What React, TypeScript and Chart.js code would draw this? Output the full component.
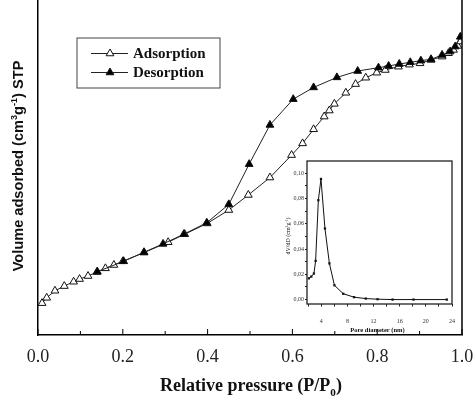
import React, { useEffect, useRef } from 'react';
import { Chart, registerables } from 'chart.js';
Chart.register(...registerables);

// Isotherm data (relative pressure P/P0, volume adsorbed, arbitrary units)
const ADS_P = [0.0095, 0.0205, 0.040, 0.062, 0.084, 0.098, 0.118, 0.139, 0.159, 0.179, 0.200, 0.250, 0.307, 0.346, 0.399, 0.450, 0.496, 0.547, 0.598, 0.624, 0.650, 0.675, 0.687, 0.699, 0.726, 0.749, 0.773, 0.799, 0.819, 0.850, 0.876, 0.901, 0.927, 0.953, 0.968, 0.980, 0.990, 0.996];
const ADS_V = [9.5, 11.1, 13.2, 14.6, 15.9, 16.7, 17.6, 18.8, 19.9, 20.9, 22.0, 24.6, 27.7, 30.1, 33.3, 37.3, 41.8, 47.0, 53.7, 57.2, 61.4, 65.2, 67.0, 69.0, 72.3, 74.9, 76.8, 78.3, 79.1, 80.1, 80.7, 81.1, 82.1, 83.1, 84.1, 85.1, 86.3, 87.6];
const DES_P = [0.996, 0.984, 0.972, 0.953, 0.927, 0.903, 0.878, 0.852, 0.827, 0.803, 0.754, 0.705, 0.650, 0.602, 0.547, 0.498, 0.450, 0.398, 0.344, 0.295, 0.250, 0.202, 0.140];
const DES_V = [89.0, 86.1, 84.6, 83.6, 82.3, 81.9, 81.4, 80.9, 80.3, 79.8, 78.8, 76.9, 73.9, 70.4, 62.7, 51.0, 39.0, 33.5, 30.1, 27.2, 24.7, 22.0, 18.9];

// Inset: pore size distribution
const PORE_D = [2.09, 2.46, 2.86, 3.12, 3.54, 3.94, 4.55, 5.23, 6.0, 7.35, 9.0, 10.8, 12.6, 14.9, 18.1, 23.2];
const PORE_DVDD = [0.0168, 0.0182, 0.0206, 0.0306, 0.0786, 0.0954, 0.0562, 0.0286, 0.0113, 0.0046, 0.0019, 0.0008, 0.0003, 0.0, 0.0, 0.0];

const MAIN_X_LABELS = ['0.0', '0.2', '0.4', '0.6', '0.8', '1.0'];
const INSET_X_LABELS = ['4', '8', '12', '16', '20', '24'];
const INSET_Y_LABELS = ['0,00', '0,02', '0,04', '0,06', '0,08', '0,10'];

const SERIF = '"Liberation Serif", "Times New Roman", serif';
const SANS = '"Liberation Sans", Arial, sans-serif';

type Part = { t: string; sup?: boolean; sub?: boolean };

function drawRich(ctx: CanvasRenderingContext2D, parts: Part[], x: number, y: number, size: number, family: string, weight: string, rotate: boolean) {
  ctx.save();
  ctx.translate(x, y);
  if (rotate) ctx.rotate(-Math.PI / 2);
  const big = `${weight} ${size}px ${family}`;
  const small = `${weight} ${Math.round(size * 0.62 * 10) / 10}px ${family}`;
  let total = 0;
  const widths = parts.map((p) => {
    ctx.font = p.sup || p.sub ? small : big;
    const w = ctx.measureText(p.t).width;
    total += w;
    return w;
  });
  let cx = -total / 2;
  ctx.textBaseline = 'alphabetic';
  ctx.textAlign = 'left';
  ctx.fillStyle = '#111';
  parts.forEach((p, i) => {
    ctx.font = p.sup || p.sub ? small : big;
    let dy = 0;
    if (p.sup) dy = -size * 0.42;
    if (p.sub) dy = size * 0.25;
    ctx.fillText(p.t, cx, size * 0.35 + dy);
    cx += widths[i];
  });
  ctx.restore();
}

function drawTriangle(ctx: CanvasRenderingContext2D, x: number, y: number, r: number, filled: boolean) {
  ctx.beginPath();
  let rad = 0;
  ctx.moveTo(x + Math.sin(rad) * r, y - Math.cos(rad) * r);
  rad += (2 * Math.PI) / 3;
  ctx.lineTo(x + Math.sin(rad) * r, y - Math.cos(rad) * r);
  rad += (2 * Math.PI) / 3;
  ctx.lineTo(x + Math.sin(rad) * r, y - Math.cos(rad) * r);
  ctx.closePath();
  ctx.fillStyle = filled ? '#000' : '#fff';
  ctx.fill();
  ctx.strokeStyle = '#111';
  ctx.lineWidth = 1;
  ctx.stroke();
}

const zeroPad = (s: any) => {
  s.paddingLeft = 0;
  s.paddingRight = 0;
  s.paddingTop = 0;
  s.paddingBottom = 0;
};

const mainPlugin = {
  id: 'mainDecor',
  afterDraw(chart: any) {
    const ctx: CanvasRenderingContext2D = chart.ctx;
    const { right, top, bottom } = chart.chartArea;
    const xs = chart.scales.x;
    ctx.save();
    ctx.strokeStyle = '#000';
    ctx.lineWidth = 1.5;
    ctx.beginPath();
    ctx.moveTo(right, top);
    ctx.lineTo(right, bottom);
    ctx.stroke();
    ctx.lineWidth = 1;
    for (let i = 0; i <= 10; i++) {
      const px = xs.getPixelForValue(i / 10);
      const len = i % 2 === 0 ? 6 : 4;
      ctx.beginPath();
      ctx.moveTo(px, bottom);
      ctx.lineTo(px, bottom - len);
      ctx.stroke();
    }
    // legend
    ctx.strokeStyle = '#444';
    ctx.lineWidth = 1;
    ctx.strokeRect(77, 38, 143, 50);
    const items = [
      { label: 'Adsorption', filled: false, y: 53.5 },
      { label: 'Desorption', filled: true, y: 72.5 },
    ];
    items.forEach((it) => {
      ctx.strokeStyle = '#222';
      ctx.lineWidth = 1;
      ctx.beginPath();
      ctx.moveTo(91, it.y);
      ctx.lineTo(128, it.y);
      ctx.stroke();
      drawTriangle(ctx, 110, it.y, 4.5, it.filled);
      ctx.fillStyle = '#111';
      ctx.font = `bold 15px ${SERIF}`;
      ctx.textBaseline = 'middle';
      ctx.textAlign = 'left';
      ctx.fillText(it.label, 133, it.y + 1);
    });
    ctx.restore();
    drawRich(ctx, [{ t: 'Volume adsorbed (cm' }, { t: '3', sup: true }, { t: 'g' }, { t: '-1', sup: true }, { t: ') STP' }], 18, 166, 14.6, SANS, 'bold', true);
    drawRich(ctx, [{ t: 'Relative pressure (P/P' }, { t: '0', sub: true }, { t: ')' }], 251, 385, 18, SERIF, 'bold', false);
  },
};

const insetPlugin = {
  id: 'insetDecor',
  beforeDraw(chart: any) {
    const ctx: CanvasRenderingContext2D = chart.ctx;
    const { left, right, top, bottom } = chart.chartArea;
    ctx.save();
    ctx.fillStyle = '#fff';
    ctx.fillRect(left, top, right - left, bottom - top);
    ctx.restore();
  },
  afterDraw(chart: any) {
    const ctx: CanvasRenderingContext2D = chart.ctx;
    const { left, right, top, bottom } = chart.chartArea;
    ctx.save();
    ctx.strokeStyle = '#222';
    ctx.lineWidth = 1.3;
    ctx.strokeRect(left, top, right - left, bottom - top);
    ctx.restore();
    drawRich(ctx, [{ t: 'dV/dD (cm' }, { t: '3', sup: true }, { t: 'g' }, { t: '-1', sup: true }, { t: ')' }], 8, 81, 6, SERIF, 'normal', true);
    drawRich(ctx, [{ t: 'Pore diameter (nm)' }], (left + right) / 2 - 2, 175, 6.5, SERIF, 'bold', false);
  },
};

export default function App() {
  const mainRef = useRef<HTMLCanvasElement>(null);
  const insetRef = useRef<HTMLCanvasElement>(null);

  useEffect(() => {
    const main = new Chart(mainRef.current as HTMLCanvasElement, {
      type: 'scatter',
      data: {
        datasets: [
          {
            label: 'Desorption',
            data: DES_P.map((p, i) => ({ x: p, y: DES_V[i] })),
            showLine: true,
            borderColor: '#222',
            borderWidth: 1,
            pointStyle: 'triangle',
            pointRadius: 4.5,
            pointBackgroundColor: '#000',
            pointBorderColor: '#111',
            pointBorderWidth: 1,
            order: 0,
          },
          {
            label: 'Adsorption',
            data: ADS_P.map((p, i) => ({ x: p, y: ADS_V[i] })),
            showLine: true,
            borderColor: '#222',
            borderWidth: 1,
            pointStyle: 'triangle',
            pointRadius: 4.5,
            pointBackgroundColor: '#fff',
            pointBorderColor: '#111',
            pointBorderWidth: 1,
            order: 1,
          },
        ],
      },
      options: {
        animation: false,
        responsive: false,
        events: [],
        layout: { autoPadding: false, padding: { top: 0, right: 12, left: 0, bottom: 0 } },
        plugins: { legend: { display: false }, tooltip: { enabled: false } },
        scales: {
          x: {
            type: 'linear',
            min: 0,
            max: 1,
            afterFit: (s: any) => { s.height = 64; zeroPad(s); },
            border: { display: true, color: '#000', width: 1.5 },
            grid: { display: true, drawOnChartArea: false, drawTicks: true, tickLength: 11, tickColor: 'rgba(0,0,0,0)' },
            ticks: {
              stepSize: 0.2,
              maxRotation: 0,
              autoSkip: false,
              padding: 0,
              color: '#222',
              font: { family: SERIF, size: 18 },
              callback: (v: any) => MAIN_X_LABELS[Math.round(Number(v) * 5)] ?? '',
            },
          },
          y: {
            type: 'linear',
            min: 0,
            max: 100,
            afterFit: (s: any) => { s.width = 38; zeroPad(s); },
            border: { display: true, color: '#000', width: 1.5 },
            grid: { display: false },
            ticks: { display: false },
          },
        },
      },
      plugins: [mainPlugin],
    } as any);

    const inset = new Chart(insetRef.current as HTMLCanvasElement, {
      type: 'scatter',
      data: {
        datasets: [
          {
            label: 'PSD',
            data: PORE_D.map((d, i) => ({ x: d, y: PORE_DVDD[i] })),
            showLine: true,
            borderColor: '#111',
            borderWidth: 1,
            pointStyle: 'rect',
            pointRadius: 1.6,
            pointBackgroundColor: '#111',
            pointBorderColor: '#111',
            pointBorderWidth: 0,
          },
        ],
      },
      options: {
        animation: false,
        responsive: false,
        events: [],
        layout: { autoPadding: false, padding: { top: 6, right: 8, left: 0, bottom: 0 } },
        plugins: { legend: { display: false }, tooltip: { enabled: false } },
        scales: {
          x: {
            type: 'linear',
            min: 1.8,
            max: 24,
            afterFit: (s: any) => { s.height = 36; zeroPad(s); },
            border: { display: false },
            grid: { display: true, drawOnChartArea: false, drawTicks: true, tickLength: 2.5, color: '#222' },
            ticks: {
              stepSize: 2,
              includeBounds: false,
              autoSkip: false,
              maxRotation: 0,
              padding: 11,
              color: '#333',
              font: { family: SERIF, size: 6 },
              callback: (v: any) => {
                const n = Math.round(Number(v));
                return n % 4 === 0 ? INSET_X_LABELS[n / 4 - 1] ?? '' : '';
              },
            },
          },
          y: {
            type: 'linear',
            min: -0.0035,
            max: 0.1096,
            afterFit: (s: any) => { s.width = 27; zeroPad(s); },
            border: { display: false },
            grid: { display: true, drawOnChartArea: false, drawTicks: true, tickLength: 2, color: '#222' },
            ticks: {
              stepSize: 0.01,
              includeBounds: false,
              autoSkip: false,
              padding: 1,
              color: '#333',
              font: { family: SERIF, size: 6 },
              callback: (v: any) => {
                const n = Math.round(Number(v) * 100);
                return n % 2 === 0 ? INSET_Y_LABELS[n / 2] ?? '' : '';
              },
            },
          },
        },
      },
      plugins: [insetPlugin],
    } as any);

    return () => {
      main.destroy();
      inset.destroy();
    };
  }, []);

  return (
    <div style={{ position: 'absolute', left: 0, top: 0, width: 474, height: 399, background: '#fff', overflow: 'hidden' }}>
      <canvas ref={mainRef} width={474} height={399} style={{ position: 'absolute', left: 0, top: 0 }} />
      <canvas ref={insetRef} width={180} height={185} style={{ position: 'absolute', left: 280, top: 155 }} />
    </div>
  );
}
